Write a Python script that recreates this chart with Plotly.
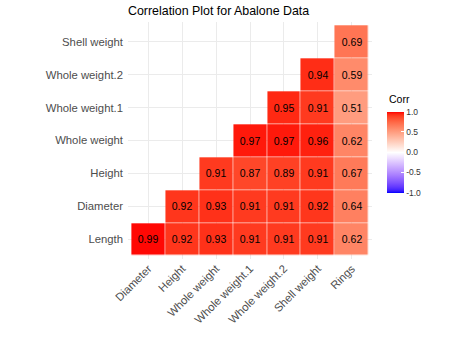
import plotly.graph_objects as go

# ---- data ----
x_vars = ["Diameter", "Height", "Whole weight", "Whole weight.1",
          "Whole weight.2", "Shell weight", "Rings"]
y_vars = ["Length", "Diameter", "Height", "Whole weight",
          "Whole weight.1", "Whole weight.2", "Shell weight"]
row_length = [0.99, 0.92, 0.93, 0.91, 0.91, 0.91, 0.62]
row_diameter = [None, 0.92, 0.93, 0.91, 0.91, 0.92, 0.64]
row_height = [None, None, 0.91, 0.87, 0.89, 0.91, 0.67]
row_whole = [None, None, None, 0.97, 0.97, 0.96, 0.62]
row_whole1 = [None, None, None, None, 0.95, 0.91, 0.51]
row_whole2 = [None, None, None, None, None, 0.94, 0.59]
row_shell = [None, None, None, None, None, None, 0.69]
cb_ticks = [-1.0, -0.5, 0.0, 0.5, 1.0]

z = [row_length, row_diameter, row_height, row_whole, row_whole1, row_whole2, row_shell]
text = [["" if v is None else f"{v:.2f}" for v in row] for row in z]

# ---- Lab-interpolated diverging colourscale (blue - white - red) ----
def srgb_to_lab(rgb):
    def lin(c):
        c = c / 255
        return c / 12.92 if c <= 0.04045 else ((c + 0.055) / 1.055) ** 2.4
    r, g, b = (lin(c) for c in rgb)
    X = (0.4124 * r + 0.3576 * g + 0.1805 * b) / 0.95047
    Y = (0.2126 * r + 0.7152 * g + 0.0722 * b)
    Z = (0.0193 * r + 0.1192 * g + 0.9505 * b) / 1.08883
    def f(t):
        return t ** (1 / 3) if t > (6 / 29) ** 3 else t / (3 * (6 / 29) ** 2) + 4 / 29
    fx, fy, fz = f(X), f(Y), f(Z)
    return (116 * fy - 16, 500 * (fx - fy), 200 * (fy - fz))

def lab_to_srgb(lab):
    L, a, b_ = lab
    fy = (L + 16) / 116
    fx = fy + a / 500
    fz = fy - b_ / 200
    def finv(t):
        return t ** 3 if t > 6 / 29 else 3 * (6 / 29) ** 2 * (t - 4 / 29)
    X, Y, Z = 0.95047 * finv(fx), finv(fy), 1.08883 * finv(fz)
    r = 3.2406 * X - 1.5372 * Y - 0.4986 * Z
    g = -0.9689 * X + 1.8758 * Y + 0.0415 * Z
    b = 0.0557 * X - 0.2040 * Y + 1.0570 * Z
    def gam(c):
        c = max(0.0, min(1.0, c))
        return 12.92 * c if c <= 0.0031308 else 1.055 * c ** (1 / 2.4) - 0.055
    return tuple(int(round(255 * gam(c))) for c in (r, g, b))

low, mid, high = srgb_to_lab((0, 0, 255)), srgb_to_lab((255, 255, 255)), srgb_to_lab((255, 0, 0))
n = 20
colorscale = []
for i in range(n + 1):
    t = i / n
    lab = tuple(low[k] + (mid[k] - low[k]) * t for k in range(3))
    colorscale.append([t / 2, "rgb(%d,%d,%d)" % lab_to_srgb(lab)])
for i in range(1, n + 1):
    t = i / n
    lab = tuple(mid[k] + (high[k] - mid[k]) * t for k in range(3))
    colorscale.append([0.5 + t / 2, "rgb(%d,%d,%d)" % lab_to_srgb(lab)])

FONT = "Liberation Sans, Arial, sans-serif"
PL, PT, PW, PH = 128, 22, 244, 244  # plot-area left, top, width, height (px)

fig = go.Figure(go.Heatmap(
    x=x_vars, y=y_vars, z=z, text=text, texttemplate="%{text}",
    textfont=dict(family=FONT, size=10.5, color="black"),
    colorscale=colorscale, zmin=-1, zmax=1, xgap=0.6, ygap=0.6,
    hoverongaps=False,
    colorbar=dict(
        tickvals=cb_ticks, ticktext=[f"{v:.1f}" for v in cb_ticks],
        tickfont=dict(family=FONT, size=8.5, color="#333333"),
        ticks="inside", ticklen=3, tickcolor="white",
        thickness=17, thicknessmode="pixels", len=81, lenmode="pixels",
        xref="paper", x=(387 - PL) / PW, xanchor="left", xpad=0,
        yref="paper", y=(PT + PH - 156) / PH, yanchor="middle", ypad=0,
        outlinewidth=0,
    ),
))

axis_common = dict(
    type="category", showgrid=True, gridcolor="#EBEBEB", gridwidth=1,
    zeroline=False, showline=False, ticks="",
    tickfont=dict(family=FONT, size=11.3, color="#4D4D4D"),
    range=[-0.6, 6.6], fixedrange=True,
)
fig.update_layout(
    width=474, height=338,
    margin=dict(l=PL, r=474 - PL - PW, t=PT, b=338 - PT - PH),
    paper_bgcolor="white", plot_bgcolor="white",
    title=dict(text="Correlation Plot for Abalone Data", x=0, xref="paper", xanchor="left",
               y=1 - 11 / 338, yref="container", yanchor="middle",
               font=dict(family=FONT, size=12.4, color="black")),
    xaxis=dict(axis_common, tickangle=-45),
    yaxis=dict(axis_common, ticklabelstandoff=4),
    annotations=[dict(text="Corr", xref="paper", yref="paper",
                      x=(387 - PL) / PW, y=(PT + PH - 101) / PH,
                      xanchor="left", yanchor="middle",
                      showarrow=False, font=dict(family=FONT, size=10.5, color="black"))],
)

fig.write_html("out.html")
